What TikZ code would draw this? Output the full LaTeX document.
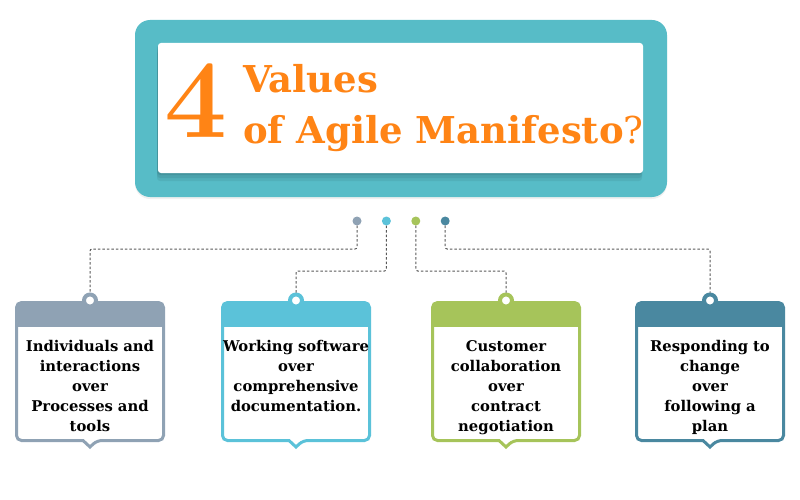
\documentclass[tikz,border=0pt]{standalone}
\usepackage{fontspec}
\newfontfamily\valuefont{DejaVu Serif}
\usetikzlibrary{positioning,shadows}

\definecolor{frameteal}{HTML}{57BCC7}
\definecolor{titleorange}{HTML}{FF8415}
\definecolor{slate}{HTML}{8FA2B4}
\definecolor{sky}{HTML}{5BC2D9}
\definecolor{lime}{HTML}{A6C45A}
\definecolor{petrol}{HTML}{4A88A0}

% one value card: centre x, colour, name, text
\newcommand\valuecard[4]{%
\begin{scope}[shift={(#1,0)}]
\path[save path=\cardpath, rounded corners=5]
  (-73.5,370) -- (-73.5,302.5) -- (73.5,302.5) -- (73.5,440.5)
  -- (7,440.5) [sharp corners] -- (0,447) -- (-7,440.5)
  [rounded corners=5] -- (-73.5,440.5) -- cycle;
\fill[white, use path=\cardpath];
\begin{scope}
\clip[use path=\cardpath];
\fill[#2] (-80,295) rectangle (80,327);
\end{scope}
\draw[#2, line width=3, use path=\cardpath];
\node[ring=#2] (ring#3) at (0,300.5) {};
\node[cardtext] (text#3) at (0,340) {#4};
\end{scope}}

\begin{document}
\begin{tikzpicture}[%
x=1pt,
y=-1pt,
frame/.style={
rectangle,
fill=frameteal,
rounded corners=15,
minimum width=532pt,
minimum height=177pt,
drop shadow={opacity=0.12, shadow xshift=0pt, shadow yshift=-2pt}},
panel/.style={
rectangle,
fill=white,
rounded corners=3,
minimum width=485pt,
minimum height=130pt,
drop shadow={opacity=0.12, shadow xshift=-1pt, shadow yshift=-8pt, fill=frameteal!50!black},
drop shadow={opacity=0.15, shadow xshift=-1pt, shadow yshift=-5pt, fill=frameteal!50!black},
drop shadow={opacity=0.2, shadow xshift=-1pt, shadow yshift=-2pt, fill=frameteal!50!black}},
title/.style={
inner sep=0,
anchor=base west,
text=titleorange,
font=\valuefont\bfseries\fontsize{37}{40}\selectfont},
dot/.style={
circle,
inner sep=0,
minimum size=9pt},
ring/.style={
circle,
inner sep=0,
minimum size=12pt,
line width=4,
draw=#1,
fill=white},
cardtext/.style={
anchor=north,
inner sep=0,
text width=148pt,
align=center,
font=\valuefont\bfseries\fontsize{14.8}{20}\selectfont},
link/.style={
draw=black!65,
line width=1,
dash pattern=on 2.5pt off 2pt,
rounded corners=2}
]
\useasboundingbox (0,0) rectangle (800,500);

\node[frame] (frame) at (401,108.5) {};
\node[panel] (panel) at (400.5,108) {};
\node[inner sep=0, anchor=base west, text=titleorange, font=\bfseries\fontsize{112}{112}\selectfont] (four) at (164,138) {4};
\node[title] (values) at (243,93) {Values};
\node[title] (agile) at (243,143) {of Agile Manifesto{\mdseries ?}};

\node[dot, fill=slate] (d1) at (357,221) {};
\node[dot, fill=sky, right=20pt of d1] (d2) {};
\node[dot, fill=lime, right=20pt of d2] (d3) {};
\node[dot, fill=petrol, right=20pt of d3] (d4) {};

\valuecard{90}{slate}{1}{Individuals and\\ interactions\\ over\\ Processes and\\ tools}
\valuecard{296}{sky}{2}{Working software\\ over\\ comprehensive\\ documentation.}
\valuecard{506}{lime}{3}{Customer\\ collaboration\\ over\\ contract\\ negotiation}
\valuecard{710}{petrol}{4}{Responding to\\ change\\ over\\ following a\\ plan}

\coordinate (k1) at (90,249);
\coordinate (k2) at (296,271);
\coordinate (k3) at (506,271);
\coordinate (k4) at (710,249);
\draw[link] (d1) |- (k1) -- (ring1);
\draw[link] (d2) |- (k2) -- (ring2);
\draw[link] (d3) |- (k3) -- (ring3);
\draw[link] (d4) |- (k4) -- (ring4);
\end{tikzpicture}
\end{document}
